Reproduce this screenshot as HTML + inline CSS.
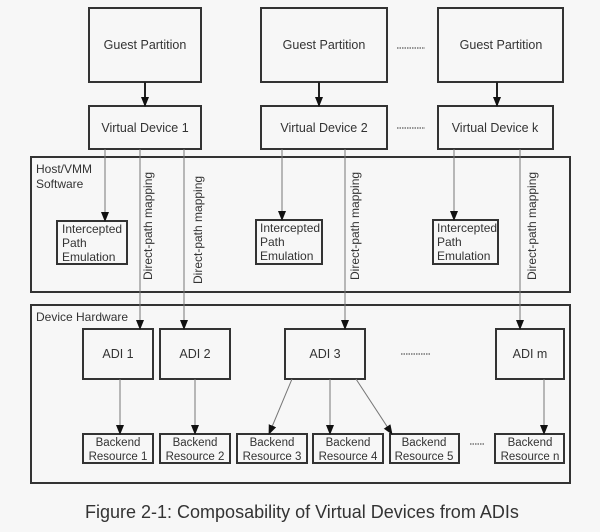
<!DOCTYPE html><html><head><meta charset="utf-8"><style>body{margin:0;background:#f7f7f7}svg{display:block}text{font-family:"Liberation Sans","DejaVu Sans",sans-serif;fill:#333}</style></head><body>
<svg width="600" height="532" viewBox="0 0 600 532">
<defs><marker id="b" markerWidth="10" markerHeight="10" refX="9" refY="5" orient="auto" markerUnits="userSpaceOnUse"><path d="M0,1 L10,5 L0,9Z" fill="#111"/></marker></defs>
<g fill="none" stroke="#333" stroke-width="2">
<rect x="89" y="8" width="112" height="74"/><rect x="261" y="8" width="126" height="74"/><rect x="438" y="8" width="125" height="74"/>
<rect x="89" y="106" width="112" height="43"/><rect x="261" y="106" width="126" height="43"/><rect x="438" y="106" width="115" height="43"/>
<rect x="31" y="157" width="539" height="135"/><rect x="31" y="305" width="539" height="178"/>
<rect x="57" y="221" width="70" height="43"/><rect x="256" y="220" width="66" height="44"/><rect x="433" y="220" width="65" height="44"/>
<rect x="83" y="329" width="70" height="50"/><rect x="160" y="329" width="70" height="50"/><rect x="285" y="329" width="80" height="50"/><rect x="496" y="329" width="68" height="50"/>
<rect x="83" y="434" width="70" height="29"/><rect x="160" y="434" width="70" height="29"/><rect x="237" y="434" width="70" height="29"/><rect x="313" y="434" width="70" height="29"/><rect x="390" y="434" width="69" height="29"/><rect x="495" y="434" width="69" height="29"/>
</g>
<g stroke="#222" stroke-width="2" marker-end="url(#b)">
<line x1="145" y1="82" x2="145" y2="106"/><line x1="319" y1="82" x2="319" y2="106"/><line x1="497" y1="82" x2="497" y2="106"/>
</g>
<g stroke="#777" stroke-width="1" marker-end="url(#b)">
<line x1="105" y1="149" x2="105" y2="221"/><line x1="282" y1="149" x2="282" y2="220"/><line x1="454" y1="149" x2="454" y2="220"/>
<line x1="140" y1="149" x2="140" y2="329"/><line x1="184" y1="149" x2="184" y2="329"/><line x1="345" y1="149" x2="345" y2="329"/><line x1="520" y1="149" x2="520" y2="329"/>
<line x1="120" y1="379" x2="120" y2="434"/><line x1="195" y1="379" x2="195" y2="434"/><line x1="330" y1="379" x2="330" y2="434"/><line x1="292" y1="379" x2="269" y2="434"/><line x1="356" y1="379" x2="392" y2="434"/><line x1="544" y1="379" x2="544" y2="434"/>
</g>
<g stroke="#333" stroke-width="1" stroke-dasharray="1.5 1"><line x1="397" y1="48" x2="425" y2="48"/><line x1="397" y1="128" x2="425" y2="128"/><line x1="401" y1="354" x2="430" y2="354"/><line x1="470" y1="444" x2="484" y2="444"/></g>
<g font-size="12.5" text-anchor="middle">
<text x="145" y="49">Guest Partition</text><text x="324" y="49">Guest Partition</text><text x="501" y="49">Guest Partition</text>
<text x="145" y="132">Virtual Device 1</text><text x="324" y="132">Virtual Device 2</text><text x="495" y="132">Virtual Device k</text>
<text x="118" y="358">ADI 1</text><text x="195" y="358">ADI 2</text><text x="325" y="358">ADI 3</text><text x="530" y="358">ADI m</text>
</g>
<g font-size="11.5" text-anchor="middle">
<text x="118" y="446">Backend</text><text x="118" y="460">Resource 1</text>
<text x="195" y="446">Backend</text><text x="195" y="460">Resource 2</text>
<text x="272" y="446">Backend</text><text x="272" y="460">Resource 3</text>
<text x="348" y="446">Backend</text><text x="348" y="460">Resource 4</text>
<text x="424" y="446">Backend</text><text x="424" y="460">Resource 5</text>
<text x="530" y="446">Backend</text><text x="530" y="460">Resource n</text>
</g>
<g font-size="12">
<text x="36" y="173">Host/VMM</text><text x="36" y="188">Software</text><text x="36" y="321">Device Hardware</text>
<text x="62" y="233">Intercepted</text><text x="62" y="247">Path</text><text x="62" y="261">Emulation</text>
<text x="260" y="232">Intercepted</text><text x="260" y="246">Path</text><text x="260" y="260">Emulation</text>
<text x="437" y="232">Intercepted</text><text x="437" y="246">Path</text><text x="437" y="260">Emulation</text>
<text transform="translate(152,280) rotate(-90)">Direct-path mapping</text>
<text transform="translate(202,284) rotate(-90)">Direct-path mapping</text>
<text transform="translate(359,280) rotate(-90)">Direct-path mapping</text>
<text transform="translate(536,280) rotate(-90)">Direct-path mapping</text>
</g>
<text x="85" y="518" font-size="18">Figure 2-1: Composability of Virtual Devices from ADIs</text>
</svg></body></html>
